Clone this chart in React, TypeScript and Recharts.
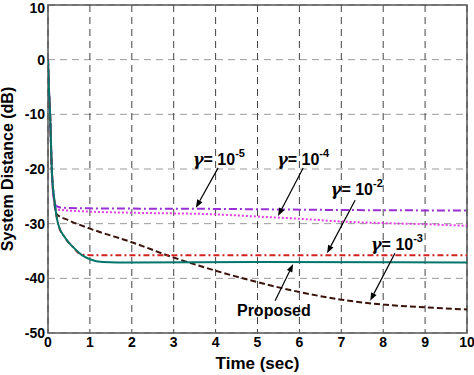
import React from 'react';
import {
  LineChart,
  Line,
  XAxis,
  YAxis,
  CartesianGrid,
  ReferenceArea,
  ReferenceLine,
  ReferenceDot,
} from 'recharts';

const FONT = '"Liberation Sans", Arial, sans-serif';

const xTicks = [0, 1, 2, 3, 4, 5, 6, 7, 8, 9, 10];
const yTicks = [-50, -40, -30, -20, -10, 0, 10];

// curves (time in sec, distance in dB)
const proposed = [
  { x: 0, y: 0 }, { x: 0.02, y: -5 }, { x: 0.05, y: -10 }, { x: 0.09, y: -20 },
  { x: 0.15, y: -25.5 }, { x: 0.24, y: -30 }, { x: 0.4, y: -32.5 }, { x: 0.6, y: -34.3 },
  { x: 0.8, y: -35.7 }, { x: 1.0, y: -36.5 }, { x: 1.3, y: -37 }, { x: 2, y: -37.1 },
  { x: 5, y: -37.0 }, { x: 10, y: -37.1 },
];
const gamma5 = [
  { x: 0, y: 0 }, { x: 0.02, y: -5 }, { x: 0.05, y: -10 }, { x: 0.09, y: -20 },
  { x: 0.14, y: -25.5 }, { x: 0.2, y: -26.8 }, { x: 0.35, y: -27.1 }, { x: 1, y: -27.2 },
  { x: 4, y: -27.3 }, { x: 7, y: -27.5 }, { x: 10, y: -27.6 },
];
const gamma4 = [
  { x: 0, y: 0 }, { x: 0.02, y: -5 }, { x: 0.05, y: -10 }, { x: 0.09, y: -20 },
  { x: 0.14, y: -25.5 }, { x: 0.2, y: -27.4 }, { x: 1, y: -27.8 }, { x: 2, y: -28.0 },
  { x: 4, y: -28.3 }, { x: 5, y: -28.7 }, { x: 6, y: -29.1 }, { x: 7, y: -29.6 },
  { x: 8, y: -29.9 }, { x: 9, y: -30.1 }, { x: 10, y: -30.4 },
];
const gamma2 = [
  { x: 0, y: 0 }, { x: 0.02, y: -5 }, { x: 0.05, y: -10 }, { x: 0.09, y: -20 },
  { x: 0.15, y: -25.5 }, { x: 0.24, y: -30 }, { x: 0.4, y: -32.5 }, { x: 0.6, y: -34.3 },
  { x: 0.72, y: -35.3 }, { x: 0.85, y: -35.7 }, { x: 1.2, y: -35.8 }, { x: 10, y: -35.8 },
];
const gamma3 = [
  { x: 0, y: 0 }, { x: 0.02, y: -5 }, { x: 0.05, y: -10 }, { x: 0.09, y: -20 },
  { x: 0.15, y: -26 }, { x: 0.2, y: -28.2 }, { x: 0.5, y: -29.4 }, { x: 1, y: -30.9 },
  { x: 2, y: -33.4 }, { x: 3, y: -36.2 }, { x: 4, y: -38.6 }, { x: 5, y: -40.7 },
  { x: 6, y: -42.5 }, { x: 7, y: -43.9 }, { x: 8, y: -44.8 }, { x: 9, y: -45.3 },
  { x: 10, y: -45.7 },
];

// annotation labels: left/baseline position in data units
const gammaLabels = [
  { x: 3.46, y: -19.3, exp: '-5' },
  { x: 5.47, y: -19.3, exp: '-4' },
  { x: 6.75, y: -24.75, exp: '-2' },
  { x: 7.71, y: -34.8, exp: '-3' },
];
const proposedLabel = { x: 4.51, y: -46.9, text: 'Proposed' };

// arrows: from (x1,y1) to the head at (x2,y2)
const arrows = [
  { x1: 4.06, y1: -19.8, x2: 3.53, y2: -27.1 },
  { x1: 6.09, y1: -19.8, x2: 5.49, y2: -28.6 },
  { x1: 7.33, y1: -25.7, x2: 6.66, y2: -35.4 },
  { x1: 8.28, y1: -35.4, x2: 7.69, y2: -44.1 },
  { x1: 5.42, y1: -44.1, x2: 5.85, y2: -37.4 },
];

const Arrow = (props: any) => {
  const { x1, y1, x2, y2 } = props;
  const ang = Math.atan2(y2 - y1, x2 - x1);
  const len = 8;
  const w = 3;
  const bx = x2 - len * Math.cos(ang);
  const by = y2 - len * Math.sin(ang);
  const px = -Math.sin(ang) * w;
  const py = Math.cos(ang) * w;
  return (
    <g>
      <line x1={x1} y1={y1} x2={bx} y2={by} stroke="#000" strokeWidth={1.2} />
      <polygon points={`${x2},${y2} ${bx + px},${by + py} ${bx - px},${by - py}`} fill="#000" />
    </g>
  );
};

const GammaText = (exp: string) => (props: any) => (
  <text x={props.cx} y={props.cy} fontFamily={FONT} fontWeight="bold" fontSize={16} fill="#000">
    <tspan fontFamily='"DejaVu Serif", serif' fontStyle="italic">γ</tspan>
    <tspan>= 10</tspan>
    <tspan fontSize={11} dy={-8}>{exp}</tspan>
  </text>
);

const PlainText = (label: string) => (props: any) => (
  <text x={props.cx} y={props.cy} fontFamily={FONT} fontWeight="bold" fontSize={16} fill="#000">
    {label}
  </text>
);

const YTitle = (props: any) => {
  const vb = props.viewBox;
  const x = vb.x + 13;
  const y = vb.y + vb.height / 2;
  return (
    <text x={x} y={y} transform={`rotate(-90 ${x} ${y})`} textAnchor="middle" fontFamily={FONT} fontWeight="bold" fontSize={16} fill="#000">
      System Distance (dB)
    </text>
  );
};

const XTitle = (props: any) => {
  const vb = props.viewBox;
  return (
    <text x={vb.x + vb.width / 2} y={369} textAnchor="middle" fontFamily={FONT} fontWeight="bold" fontSize={17} fill="#000">
      Time (sec)
    </text>
  );
};

const tickStyle = { fontFamily: FONT, fontWeight: 'bold', fontSize: 14, fill: '#000' };

export default function App() {
  return (
    <div style={{ position: 'absolute', left: 0, top: 0, background: '#fff' }}>
      <LineChart width={474} height={375} margin={{ top: 5, right: 7, left: 0, bottom: 0 }}>
        <CartesianGrid vertical={false} stroke="#9a9a9a" strokeDasharray="7 5" />
        <CartesianGrid horizontal={false} stroke="#444" strokeDasharray="7 5" />
        <XAxis
          type="number"
          dataKey="x"
          domain={[0, 10]}
          ticks={xTicks}
          allowDataOverflow
          height={42}
          tickLine={false}
          axisLine={false}
          tickSize={0}
          tickMargin={4}
          tick={tickStyle}
          label={<XTitle />}
        />
        <YAxis
          type="number"
          domain={[-50, 10]}
          ticks={yTicks}
          allowDataOverflow
          width={48}
          tickLine={false}
          axisLine={false}
          tickSize={0}
          tickMargin={3}
          tick={tickStyle}
          label={<YTitle />}
        />
        <Line data={gamma3} dataKey="y" type="monotone" stroke="#3a140c" strokeWidth={2} strokeDasharray="6 3" dot={false} isAnimationActive={false} />
        <Line data={gamma4} dataKey="y" type="monotone" stroke="#e040e0" strokeWidth={2} strokeDasharray="2 2" dot={false} isAnimationActive={false} />
        <Line data={gamma5} dataKey="y" type="monotone" stroke="#9a2fd6" strokeWidth={2} strokeDasharray="8 3 2 3" dot={false} isAnimationActive={false} />
        <Line data={gamma2} dataKey="y" type="monotone" stroke="#d42020" strokeWidth={2} strokeDasharray="6 3 2 3" dot={false} isAnimationActive={false} />
        <Line data={proposed} dataKey="y" type="monotone" stroke="#00766a" strokeWidth={2} dot={false} isAnimationActive={false} />
        <ReferenceArea x1={0} x2={10} y1={-50} y2={10} fill="none" stroke="#555" strokeWidth={1.5} ifOverflow="visible" />
        {arrows.map((a, i) => (
          <ReferenceLine key={'a' + i} segment={[{ x: a.x1, y: a.y1 }, { x: a.x2, y: a.y2 }]} shape={<Arrow />} ifOverflow="visible" />
        ))}
        {gammaLabels.map((g, i) => (
          <ReferenceDot key={'g' + i} x={g.x} y={g.y} r={0} shape={GammaText(g.exp)} ifOverflow="visible" />
        ))}
        <ReferenceDot x={proposedLabel.x} y={proposedLabel.y} r={0} shape={PlainText(proposedLabel.text)} ifOverflow="visible" />
      </LineChart>
    </div>
  );
}
